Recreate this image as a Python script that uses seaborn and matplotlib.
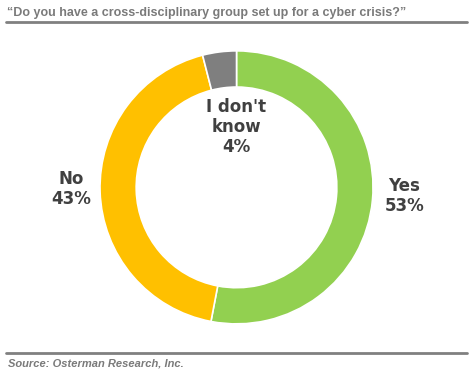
import matplotlib
matplotlib.use('Agg')
import matplotlib.pyplot as plt
import seaborn as sns

# Data
answers = ['Yes', 'No', "I don't\nknow"]
shares = [53, 43, 4]
colors = ['#92D050', '#FFC000', '#7F7F7F']

sns.set_style('white')
plt.rcParams['font.family'] = ['DejaVu Sans']

fig = plt.figure(figsize=(4.74, 3.74), dpi=100)

# Title and rules
fig.text(0.015, 0.966, '\u201cDo you have a cross-disciplinary group set up for a cyber crisis?\u201d',
         fontsize=9.0, fontweight='bold', color='#7a7a7a', va='center', ha='left',
         family='Liberation Sans')
fig.add_artist(plt.Line2D([0.013, 0.985], [0.941, 0.941], color='#808080', lw=2))
fig.add_artist(plt.Line2D([0.013, 0.985], [0.056, 0.056], color='#808080', lw=2))
fig.text(0.016, 0.028, 'Source: Osterman Research, Inc.', fontsize=8.0, fontweight='bold',
         style='italic', color='#7a7a7a', va='center', ha='left', family='Liberation Sans')

# Donut
ax = fig.add_axes([0.211, 0.134, 0.576, 0.73])
ax.pie(shares, colors=colors, startangle=90, counterclock=False, radius=1,
       wedgeprops=dict(width=0.265, edgecolor='white', linewidth=1.2))
ax.set_xlim(-1, 1)
ax.set_ylim(-1, 1)
ax.set_aspect('equal')

lbl = dict(fontsize=12, fontweight='bold', color='#404040', ha='center', va='center',
           linespacing=1.15)
ax.text(1.23, -0.06, f'{answers[0]}\n{shares[0]}%', **lbl)
ax.text(-1.21, -0.015, f'{answers[1]}\n{shares[1]}%', **lbl)
ax.text(0.0, 0.44, f'{answers[2]}\n{shares[2]}%', **lbl)

fig.savefig('out.png', dpi=100)
